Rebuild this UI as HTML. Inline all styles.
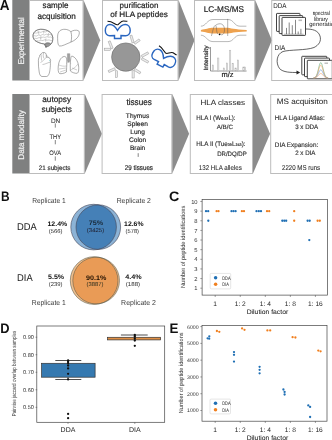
<!DOCTYPE html><html><head><meta charset="utf-8"><style>html,body{margin:0;padding:0;background:#fff;width:332px;height:440px;overflow:hidden}svg{display:block;font-family:"Liberation Sans",sans-serif;text-rendering:geometricPrecision;will-change:transform}</style></head><body>
<svg width="332" height="440" viewBox="0 0 332 440">
<text x="-0.30" y="9.70" font-size="14.6" font-weight="bold" fill="#111" textLength="9.80" lengthAdjust="spacingAndGlyphs" >A</text>
<rect x="12.3" y="0" width="16.7" height="80.5" fill="#7f8080"/>
<text transform="translate(23.80,64.50) rotate(-90)" x="0" y="0" font-size="8.4" font-weight="normal" fill="#f2f2f2" stroke="#f2f2f2" stroke-width="0.2" textLength="47.20" lengthAdjust="spacingAndGlyphs">Experimental</text>
<rect x="29.5" y="0.5" width="53.5" height="80" fill="none" stroke="#bcbcbc" stroke-width="1"/>
<polygon points="83.5,0 100.2,40.25 83.5,80.5" fill="#8c8c8c"/>
<rect x="102.5" y="0.5" width="75.5" height="80" fill="none" stroke="#bcbcbc" stroke-width="1"/>
<polygon points="178.5,0 194.5,40.25 178.5,80.5" fill="#8c8c8c"/>
<rect x="194.5" y="0.5" width="60.19999999999999" height="80" fill="none" stroke="#bcbcbc" stroke-width="1"/>
<polygon points="255.2,0 271.9,40.25 255.2,80.5" fill="#8c8c8c"/>
<rect x="271.7" y="0.5" width="67.80000000000001" height="80" fill="none" stroke="#bcbcbc" stroke-width="1"/>
<rect x="12.3" y="94" width="16.7" height="79.5" fill="#7f8080"/>
<text transform="translate(23.80,159.70) rotate(-90)" x="0" y="0" font-size="8.4" font-weight="normal" fill="#f2f2f2" stroke="#f2f2f2" stroke-width="0.2" textLength="49.60" lengthAdjust="spacingAndGlyphs">Data modality</text>
<rect x="29.5" y="94.5" width="54.8" height="79" fill="none" stroke="#bcbcbc" stroke-width="1"/>
<polygon points="84.8,94 101.9,133.75 84.8,173.5" fill="#8c8c8c"/>
<rect x="102.1" y="94.5" width="69.70000000000002" height="79" fill="none" stroke="#bcbcbc" stroke-width="1"/>
<polygon points="172.3,94 189.1,133.75 172.3,173.5" fill="#8c8c8c"/>
<rect x="190.3" y="94.5" width="62.19999999999999" height="79" fill="none" stroke="#bcbcbc" stroke-width="1"/>
<polygon points="253,94 270.1,133.75 253,173.5" fill="#8c8c8c"/>
<rect x="270.7" y="94.5" width="68.80000000000001" height="79" fill="none" stroke="#bcbcbc" stroke-width="1"/>
<text x="42.60" y="8.40" font-size="8.3" font-weight="normal" fill="#222" stroke="#222" stroke-width="0.2" textLength="26.00" lengthAdjust="spacingAndGlyphs" >sample</text>
<text x="37.40" y="19.00" font-size="8.3" font-weight="normal" fill="#222" stroke="#222" stroke-width="0.2" textLength="38.50" lengthAdjust="spacingAndGlyphs" >acquisition</text>
<g fill="none" stroke="#4a4a4a" stroke-width="0.45">
<defs><clipPath id="brainclip"><path d="M33,36 C33,31 38,29 42,29.3 C47,29.5 52,32 52.8,37.5 C53,41 52,43.5 50.5,44.5 L47,44.5 L46,47.5 L44.5,44 C40,43.5 37,42 35,40.5 C33.5,39 33,37.5 33,36 Z"/></clipPath></defs>
<path d="M33,36 C33,31 38,29 42,29.3 C47,29.5 52,32 52.8,37.5 C53,41 52,43.5 50.5,44.5 L47,44.5 L46,47.5 L44.5,44 C40,43.5 37,42 35,40.5 C33.5,39 33,37.5 33,36 Z" fill="#fff"/>
<g clip-path="url(#brainclip)" stroke="#8c8c8c" stroke-width="0.4">
<path d="M34,33.5 C35.5,32 36.5,34 38,32.5 C39.5,31 40.5,33.5 42,31.8 C43.5,30.5 45,33 46.5,31.5 C48,30.5 49,32.5 50.5,32"/>
<path d="M33.5,36 C35,35 36,37 37.5,35.5 C39,34 40,36.5 41.5,35 C43,33.5 44,36 45.5,34.5 C47,33.5 48,35.5 49.5,34.5 C50.5,34 51.5,35.5 52.5,35.5"/>
<path d="M34,38.5 C35.5,37.5 36.5,39.5 38,38 C39.5,36.5 40.5,39 42,37.5 C43.5,36 44.5,38.5 46,37 C47.5,36 48.5,38 50,37 C51,36.5 52,38 53,38"/>
<path d="M36,41 C37.5,40 38.5,42 40,40.5 C41.5,39.5 42.5,41.5 44,40 C45.5,39 46.5,41 48,40 C49.5,39.5 50.5,41 52,40.5"/>
<path d="M38,31 L39,34.5 M44,30.5 L43.5,33.5 M48.5,33 L48,36.5 M41,36 L40.5,39.5 M46,38.5 L45.5,41.5"/>
</g>
<path d="M33,36 C33,31 38,29 42,29.3 C47,29.5 52,32 52.8,37.5 C53,41 52,43.5 50.5,44.5 L47,44.5 L46,47.5 L44.5,44 C40,43.5 37,42 35,40.5 C33.5,39 33,37.5 33,36 Z"/>
<path d="M44.8,43.8 C46,42.4 49,42.2 50.7,43.5 C50.5,45.5 48.5,46.8 46.5,46.7 C45.5,46 45,45 44.8,43.8 Z" fill="#8a8a8a" stroke="#555"/>
<path d="M45.5,44 L50,44.5 M45.8,45.2 L49.5,45.6" stroke="#bbb" stroke-width="0.3"/>
<path d="M57.6,37 C57.5,31 61,29.2 65,29.3 C67.5,29.4 69.5,30.5 70.9,31.7 C73,30.2 76,29.8 78.2,30.6 C80,31.5 79.5,35 77.5,37.5 C75.5,40 72.5,41.5 70,42.5 C66,44 62,46.5 59.5,46 C57.8,45.5 57.6,41 57.6,37 Z"/>
<path d="M70.9,31.7 C71.8,35 71.8,38.5 71,42" stroke-width="0.45"/>
<path d="M39.6,56.5 C39.6,55 40,54.5 41,54.3 C41.5,53 42.5,52.4 43.8,52.5 C45.3,52.6 46.3,53.5 46.3,55 L46.3,57.2 C47.8,57.2 49.2,57.6 50,58.6 C50.8,59.6 50.8,61 50.3,62 C50.5,64 50.4,66.5 50,69.5 C49.6,73 48.6,76.3 46.5,76.5 L42,76.5 C40.3,76.3 39.6,74.5 39.2,72 C38.6,68.5 38.2,64 38.4,60.5 C38.5,58.5 39,57.3 39.6,56.5 Z" fill="#fff"/>
<path d="M41,54.3 C41.3,56 41.5,58 41.5,60.5 M43.8,52.5 C43,54.5 43,56.5 44,58.5 M40.5,62.5 C42.5,61.5 44.5,59.5 46.3,57.2 M42.5,64.5 C44.5,64.5 47,63 50.3,62 M46.3,55 C47,56 47.5,56.5 48.5,57" stroke="#777" stroke-width="0.4"/>
<circle cx="49.6" cy="60.3" r="0.45" fill="#5bb" stroke="none"/>
<path d="M64,56.5 C66,56 66.8,58 66.8,62 C66.8,66 66.5,70 66.4,72 C64,73.5 61,74 59.5,73.5 C58,72.5 58,69 58.3,66 C58.8,61 61,57 64,56.5 Z"/>
<path d="M71.7,56.1 C75,56.5 78,61 78.6,66 C79,70 78.5,73 77,73.3 C75,73.5 72,72.5 70.4,71 C70.2,67 70.2,63 70.6,60 C70.8,58 71,56.5 71.7,56.1 Z"/>
<path d="M67.4,53.7 L69.8,53.7 L69.8,61 L68.6,62.5 L67.4,61 Z" fill="#a0a0a0" stroke="#888"/>
<path d="M68,61.5 L66.5,63.5 M69.2,61.5 L70.7,63.5 M59,65 C61,66 64,66.5 66.5,66 M59,69 L66,68 M60,72 L66,70 M71,70 C74,68 76,67 78,64 M72,68 L77,70" stroke="#888" stroke-width="0.4"/>
</g>
<text x="119.60" y="7.50" font-size="8" font-weight="normal" fill="#222" stroke="#222" stroke-width="0.2" textLength="38.80" lengthAdjust="spacingAndGlyphs" >purification</text>
<text x="110.30" y="16.90" font-size="8" font-weight="normal" fill="#222" stroke="#222" stroke-width="0.2" textLength="57.50" lengthAdjust="spacingAndGlyphs" >of HLA peptides</text>
<g stroke="#8f8f8f" stroke-width="0.45" fill="#ececec">
<rect x="0" y="-1.05" width="7.85" height="2.1" transform="translate(112.1,48.5) rotate(-111.7)"/>
<rect x="0" y="-1.05" width="6.50" height="2.1" transform="translate(110.7,49.2) rotate(180.0)"/>
<rect x="0" y="-1.05" width="7.62" height="2.1" transform="translate(133.1,42.7) rotate(-106.8)"/>
<rect x="0" y="-1.05" width="6.24" height="2.1" transform="translate(134.5,43.4) rotate(-35.2)"/>
<rect x="0" y="-1.05" width="7.43" height="2.1" transform="translate(141.7,56.4) rotate(-29.0)"/>
<rect x="0" y="-1.05" width="7.43" height="2.1" transform="translate(141.7,58.6) rotate(29.0)"/>
<rect x="0" y="-1.05" width="7.12" height="2.1" transform="translate(115,68.7) rotate(156.0)"/>
<rect x="0" y="-1.05" width="6.60" height="2.1" transform="translate(116.5,70.8) rotate(90.0)"/>
<rect x="0" y="-1.05" width="7.20" height="2.1" transform="translate(133.1,70.8) rotate(90.0)"/>
<rect x="0" y="-1.05" width="6.83" height="2.1" transform="translate(134.5,69.4) rotate(31.8)"/>
</g>
<circle cx="125.8" cy="57.1" r="14.2" fill="#979797" stroke="#6a6a6a" stroke-width="0.6"/>
<g transform="translate(117.7,31.5) rotate(0)">
<path d="M-0.2,-1.2 C-2.5,-5 -5,-7 -7.7,-7 C-10.5,-7 -12.4,-4.5 -12.4,-1 C-12.4,2 -10.5,4.2 -8,4.2 L-3.2,4.0 L-3.2,6.9 L3.3,6.9 L3.3,4.0 L8,4.2 C10.5,4.2 12.5,2 12.5,-1 C12.5,-4.5 10.5,-7 7.5,-7 C4.8,-7 2.2,-5 -0.2,-1.2 Z" fill="none" stroke="#2a66c0" stroke-width="1.45"/>
<path d="M-10.2,-10.2 C-7,-10.2 -5,-9 -3,-7.8 C-1.5,-6.8 -0.5,-6.4 0.5,-7 C2,-8 3.5,-10.5 5.6,-10.5 C7,-10.5 8.5,-10.3 9.7,-10.2" fill="none" stroke="#111" stroke-width="1.1"/>
</g>
<g transform="translate(163.2,59.5) rotate(28)">
<path d="M-0.2,-1.2 C-2.5,-5 -5,-7 -7.7,-7 C-10.5,-7 -12.4,-4.5 -12.4,-1 C-12.4,2 -10.5,4.2 -8,4.2 L-3.2,4.0 L-3.2,6.9 L3.3,6.9 L3.3,4.0 L8,4.2 C10.5,4.2 12.5,2 12.5,-1 C12.5,-4.5 10.5,-7 7.5,-7 C4.8,-7 2.2,-5 -0.2,-1.2 Z" fill="none" stroke="#2a66c0" stroke-width="1.45"/>
<path d="M-10.2,-10.2 C-7,-10.2 -5,-9 -3,-7.8 C-1.5,-6.8 -0.5,-6.4 0.5,-7 C2,-8 3.5,-10.5 5.6,-10.5 C7,-10.5 8.5,-10.3 9.7,-10.2" fill="none" stroke="#111" stroke-width="1.1"/>
</g>
<text x="203.80" y="11.60" font-size="8.4" font-weight="normal" fill="#1e1e1e" stroke="#1e1e1e" stroke-width="0.2" textLength="40.20" lengthAdjust="spacingAndGlyphs" >LC-MS/MS</text>
<path d="M200.9,26.2 C206,26.2 207,19.5 213,19.5 L228,19.5 C234,19.5 234,26.2 240,26.2 L246.4,26.2 M200.9,35.2 C206,35.2 207,41.6 213,41.6 L228,41.6 C234,41.6 234,35.2 240,35.2 L246.4,35.2" fill="none" stroke="#8a8a8a" stroke-width="0.6"/>
<path d="M200.9,29.9 C206,29.4 208,27.9 214,27.8 L226,27.8 C231,27.9 234,29.6 246.7,29.9 L246.7,31.6 C234,31.9 231,33.5 226,33.6 L214,33.6 C208,33.5 206,32 200.9,31.5 Z" fill="#eea24f"/>
<path d="M211.4,36 C213,30 214,25 215.5,25.4 C217,26 216,33 218,34 M216,25 C220,22.5 224.5,23.5 224.5,30 C224.5,34 222,36 220.5,34 M227.7,18.9 L227.7,36" fill="none" stroke="#555" stroke-width="0.45"/>
<circle cx="219.6" cy="34.3" r="0.9" fill="#111"/>
<path d="M210.5,47 L210.5,71 L246.6,71" fill="none" stroke="#555" stroke-width="0.6"/>
<rect x="212.20" y="65" width="1.4" height="6.00" fill="#e8e8e8" stroke="#b0b0b0" stroke-width="0.45"/>
<rect x="217.50" y="58" width="1.4" height="13.00" fill="#e8e8e8" stroke="#b0b0b0" stroke-width="0.45"/>
<rect x="223.20" y="68" width="1.4" height="3.00" fill="#e8e8e8" stroke="#b0b0b0" stroke-width="0.45"/>
<rect x="226.30" y="63" width="1.4" height="8.00" fill="#e8e8e8" stroke="#b0b0b0" stroke-width="0.45"/>
<rect x="229.40" y="50.2" width="1.4" height="20.80" fill="#e8e8e8" stroke="#b0b0b0" stroke-width="0.45"/>
<rect x="232.10" y="63.2" width="1.4" height="7.80" fill="#e8e8e8" stroke="#b0b0b0" stroke-width="0.45"/>
<rect x="234.90" y="68" width="1.4" height="3.00" fill="#e8e8e8" stroke="#b0b0b0" stroke-width="0.45"/>
<rect x="237.30" y="60" width="1.4" height="11.00" fill="#e8e8e8" stroke="#b0b0b0" stroke-width="0.45"/>
<rect x="242.80" y="67" width="1.4" height="4.00" fill="#e8e8e8" stroke="#b0b0b0" stroke-width="0.45"/>
<rect x="244.30" y="67" width="1.4" height="4.00" fill="#e8e8e8" stroke="#b0b0b0" stroke-width="0.45"/>
<text transform="translate(207.50,70.60) rotate(-90)" x="0" y="0" font-size="6.2" font-weight="normal" fill="#222" stroke="#222" stroke-width="0.2" textLength="25.10" lengthAdjust="spacingAndGlyphs">Intensity</text>
<text x="221.50" y="77.00" font-size="7.6" font-weight="normal" fill="#222" stroke="#222" stroke-width="0.2" textLength="12.00" lengthAdjust="spacingAndGlyphs" >m/z</text>
<text x="273.20" y="8.10" font-size="6.8" font-weight="normal" fill="#2a2a2a" stroke="#2a2a2a" stroke-width="0.03" textLength="13.30" lengthAdjust="spacingAndGlyphs" >DDA</text>
<text x="274.50" y="50.00" font-size="6.8" font-weight="normal" fill="#2a2a2a" stroke="#2a2a2a" stroke-width="0.03" textLength="10.70" lengthAdjust="spacingAndGlyphs" >DIA</text>
<rect x="276.5" y="13.4" width="23.5" height="18" rx="0.6" fill="#fff" stroke="#222" stroke-width="0.85"/>
<rect x="279.2" y="15.6" width="23.5" height="18" rx="0.6" fill="#fff" stroke="#222" stroke-width="0.85"/>
<rect x="282" y="17.4" width="23.5" height="18" rx="0.6" fill="#fff" stroke="#222" stroke-width="0.85"/>
<line x1="284" y1="34.2" x2="303.5" y2="34.2" stroke="#555" stroke-width="0.4"/>
<line x1="286.5" y1="34.2" x2="286.5" y2="27.9" stroke="#222" stroke-width="0.55"/>
<line x1="289.2" y1="34.2" x2="289.2" y2="22.5" stroke="#222" stroke-width="0.55"/>
<line x1="292.3" y1="34.2" x2="292.3" y2="25.2" stroke="#222" stroke-width="0.55"/>
<line x1="295.5" y1="34.2" x2="295.5" y2="19.8" stroke="#222" stroke-width="0.55"/>
<line x1="298.2" y1="34.2" x2="298.2" y2="31.5" stroke="#222" stroke-width="0.55"/>
<line x1="300.9" y1="34.2" x2="300.9" y2="28.8" stroke="#222" stroke-width="0.55"/>
<rect x="298.5" y="19.5" width="3.5" height="1.6" fill="#bbb"/>
<text x="312.70" y="14.80" font-size="5.8" font-weight="normal" fill="#2a2a2a" stroke="#2a2a2a" stroke-width="0.04" textLength="17.20" lengthAdjust="spacingAndGlyphs" >spectral</text>
<text x="314.00" y="20.50" font-size="5.8" font-weight="normal" fill="#2a2a2a" stroke="#2a2a2a" stroke-width="0.04" textLength="13.90" lengthAdjust="spacingAndGlyphs" >library</text>
<text x="309.30" y="26.40" font-size="5.8" font-weight="normal" fill="#2a2a2a" stroke="#2a2a2a" stroke-width="0.04" textLength="28.20" lengthAdjust="spacingAndGlyphs" >generation</text>
<path d="M305.5,29 C312,29 318,30 320,36 C321.5,41 319,45 314,47.5 C306,50.5 290,49.5 283,51.5 C276.5,54 275.5,63 279.5,68.5 C283,72.5 291,72.5 297.5,72.5" fill="none" stroke="#222" stroke-width="0.7"/>
<polygon points="300.2,72.5 296.5,70.6 296.5,74.4" fill="#222"/>
<rect x="301.8" y="56.3" width="25" height="18.5" rx="0.6" fill="#fff" stroke="#222" stroke-width="0.85"/>
<rect x="304.5" y="58.1" width="25" height="18.5" rx="0.6" fill="#fff" stroke="#222" stroke-width="0.85"/>
<rect x="307.3" y="60.3" width="25" height="18.5" rx="0.6" fill="#fff" stroke="#222" stroke-width="0.85"/>
<polyline points="313.50,77.91 313.87,77.85 314.23,77.77 314.60,77.63 314.96,77.44 315.32,77.16 315.69,76.77 316.06,76.26 316.42,75.60 316.79,74.77 317.15,73.77 317.51,72.59 317.88,71.26 318.25,69.82 318.61,68.33 318.98,66.85 319.34,65.47 319.70,64.29 320.07,63.38 320.44,62.80 320.80,62.60 321.17,62.80 321.53,63.38 321.89,64.29 322.26,65.47 322.62,66.85 322.99,68.33 323.36,69.82 323.72,71.26 324.08,72.59 324.45,73.77 324.81,74.77 325.18,75.60 325.55,76.26 325.91,76.77 326.27,77.16 326.64,77.44 327.00,77.63 327.37,77.77 327.74,77.85 328.10,77.91" fill="none" stroke="#5aa36a" stroke-width="0.6"/>
<polyline points="313.50,77.93 313.87,77.88 314.23,77.81 314.60,77.70 314.96,77.53 315.32,77.31 315.69,76.99 316.06,76.57 316.42,76.02 316.79,75.34 317.15,74.51 317.51,73.54 317.88,72.44 318.25,71.25 318.61,70.02 318.98,68.80 319.34,67.67 319.70,66.69 320.07,65.94 320.44,65.46 320.80,65.30 321.17,65.46 321.53,65.94 321.89,66.69 322.26,67.67 322.62,68.80 322.99,70.02 323.36,71.25 323.72,72.44 324.08,73.54 324.45,74.51 324.81,75.34 325.18,76.02 325.55,76.57 325.91,76.99 326.27,77.31 326.64,77.53 327.00,77.70 327.37,77.81 327.74,77.88 328.10,77.93" fill="none" stroke="#f0a060" stroke-width="0.6"/>
<polyline points="313.50,77.95 313.87,77.92 314.23,77.88 314.60,77.80 314.96,77.70 315.32,77.55 315.69,77.35 316.06,77.08 316.42,76.72 316.79,76.28 317.15,75.75 317.51,75.12 317.88,74.41 318.25,73.64 318.61,72.85 318.98,72.06 319.34,71.33 319.70,70.70 320.07,70.21 320.44,69.91 320.80,69.80 321.17,69.91 321.53,70.21 321.89,70.70 322.26,71.33 322.62,72.06 322.99,72.85 323.36,73.64 323.72,74.41 324.08,75.12 324.45,75.75 324.81,76.28 325.18,76.72 325.55,77.08 325.91,77.35 326.27,77.55 326.64,77.70 327.00,77.80 327.37,77.88 327.74,77.92 328.10,77.95" fill="none" stroke="#5b8fd0" stroke-width="0.6"/>
<polyline points="313.50,77.97 313.87,77.96 314.23,77.93 314.60,77.89 314.96,77.83 315.32,77.75 315.69,77.64 316.06,77.49 316.42,77.30 316.79,77.06 317.15,76.76 317.51,76.42 317.88,76.03 318.25,75.61 318.61,75.17 318.98,74.74 319.34,74.34 319.70,73.99 320.07,73.73 320.44,73.56 320.80,73.50 321.17,73.56 321.53,73.73 321.89,73.99 322.26,74.34 322.62,74.74 322.99,75.17 323.36,75.61 323.72,76.03 324.08,76.42 324.45,76.76 324.81,77.06 325.18,77.30 325.55,77.49 325.91,77.64 326.27,77.75 326.64,77.83 327.00,77.89 327.37,77.93 327.74,77.96 328.10,77.97" fill="none" stroke="#f0a060" stroke-width="0.6"/>
<rect x="324.5" y="62.5" width="3.5" height="1.4" fill="#bbb"/>
<text x="42.30" y="102.40" font-size="8.2" font-weight="normal" fill="#222" stroke="#222" stroke-width="0.2" textLength="28.80" lengthAdjust="spacingAndGlyphs" >autopsy</text>
<text x="41.60" y="111.60" font-size="8.2" font-weight="normal" fill="#222" stroke="#222" stroke-width="0.2" textLength="30.20" lengthAdjust="spacingAndGlyphs" >subjects</text>
<text x="50.90" y="122.50" font-size="6.6" font-weight="normal" fill="#2a2a2a" stroke="#2a2a2a" stroke-width="0.05" textLength="9.30" lengthAdjust="spacingAndGlyphs" >DN</text>
<text x="49.50" y="138.80" font-size="6.6" font-weight="normal" fill="#2a2a2a" stroke="#2a2a2a" stroke-width="0.05" textLength="11.60" lengthAdjust="spacingAndGlyphs" >THY</text>
<text x="49.30" y="155.20" font-size="6.6" font-weight="normal" fill="#2a2a2a" stroke="#2a2a2a" stroke-width="0.05" textLength="11.80" lengthAdjust="spacingAndGlyphs" >OVA</text>
<line x1="55.3" y1="123.4" x2="55.3" y2="127.6" stroke="#333" stroke-width="0.6"/>
<line x1="55.3" y1="140.0" x2="55.3" y2="144.3" stroke="#333" stroke-width="0.6"/>
<line x1="55.3" y1="156.4" x2="55.3" y2="160.7" stroke="#333" stroke-width="0.6"/>
<text x="38.80" y="169.90" font-size="6.6" font-weight="normal" fill="#2a2a2a" stroke="#2a2a2a" stroke-width="0.15" textLength="31.70" lengthAdjust="spacingAndGlyphs" >21 subjects</text>
<text x="126.40" y="104.90" font-size="8.7" font-weight="normal" fill="#222" stroke="#222" stroke-width="0.2" textLength="25.40" lengthAdjust="spacingAndGlyphs" >tissues</text>
<text x="137.6" y="117.70" font-size="6.6" fill="#222" stroke="#222" stroke-width="0.15" text-anchor="middle">Thymus</text>
<text x="137.6" y="125.80" font-size="6.6" fill="#222" stroke="#222" stroke-width="0.15" text-anchor="middle">Spleen</text>
<text x="137.6" y="133.90" font-size="6.6" fill="#222" stroke="#222" stroke-width="0.15" text-anchor="middle">Lung</text>
<text x="137.6" y="142.00" font-size="6.6" fill="#222" stroke="#222" stroke-width="0.15" text-anchor="middle">Colon</text>
<text x="137.6" y="150.10" font-size="6.6" fill="#222" stroke="#222" stroke-width="0.15" text-anchor="middle">Brain</text>
<line x1="138.2" y1="153.2" x2="138.2" y2="156.9" stroke="#333" stroke-width="0.6"/>
<text x="124.80" y="169.80" font-size="6.8" font-weight="normal" fill="#222" stroke="#222" stroke-width="0.15" textLength="28.20" lengthAdjust="spacingAndGlyphs" >29 tissues</text>
<text x="200.50" y="104.80" font-size="7.6" font-weight="normal" fill="#262626" stroke="#262626" stroke-width="0.04" textLength="44.50" lengthAdjust="spacingAndGlyphs" >HLA classes</text>
<text x="196.30" y="119.60" font-size="6.4" font-weight="normal" fill="#333" stroke="#333" stroke-width="0.15" textLength="39.30" lengthAdjust="spacingAndGlyphs" >HLA I (W<tspan font-size="3.8">6-32</tspan>L):</text>
<text x="216.70" y="128.90" font-size="6.2" font-weight="normal" fill="#333" stroke="#333" stroke-width="0.15" textLength="16.30" lengthAdjust="spacingAndGlyphs" >A/B/C</text>
<text x="196.30" y="145.70" font-size="6.4" font-weight="normal" fill="#333" stroke="#333" stroke-width="0.15" textLength="49.20" lengthAdjust="spacingAndGlyphs" >HLA II (Tue<tspan font-size="3.8">39</tspan>L<tspan font-size="3.8">243</tspan>):</text>
<text x="217.20" y="155.60" font-size="6.4" font-weight="normal" fill="#333" stroke="#333" stroke-width="0.15" textLength="29.60" lengthAdjust="spacingAndGlyphs" >DR/DQ/DP</text>
<text x="198.80" y="170.30" font-size="7.0" font-weight="normal" fill="#2a2a2a" stroke="#2a2a2a" stroke-width="0.08" textLength="43.00" lengthAdjust="spacingAndGlyphs" >132 HLA alleles</text>
<text x="276.70" y="104.00" font-size="7.8" font-weight="normal" fill="#262626" stroke="#262626" stroke-width="0.04" textLength="51.10" lengthAdjust="spacingAndGlyphs" >MS acquisiton</text>
<text x="274.80" y="119.80" font-size="6.5" font-weight="normal" fill="#333" stroke="#333" stroke-width="0.15" textLength="50.00" lengthAdjust="spacingAndGlyphs" >HLA Ligand Atlas:</text>
<text x="295.20" y="129.40" font-size="6.5" font-weight="normal" fill="#333" stroke="#333" stroke-width="0.15" textLength="23.00" lengthAdjust="spacingAndGlyphs" >3 x DDA</text>
<text x="274.80" y="146.90" font-size="6.5" font-weight="normal" fill="#333" stroke="#333" stroke-width="0.15" textLength="43.40" lengthAdjust="spacingAndGlyphs" >DIA Expansion:</text>
<text x="295.20" y="155.20" font-size="6.5" font-weight="normal" fill="#333" stroke="#333" stroke-width="0.15" textLength="20.30" lengthAdjust="spacingAndGlyphs" >2 x DIA</text>
<text x="282.00" y="170.10" font-size="7.1" font-weight="normal" fill="#2a2a2a" stroke="#2a2a2a" stroke-width="0.08" textLength="38.20" lengthAdjust="spacingAndGlyphs" >2220 MS runs</text>
<text x="1.00" y="200.70" font-size="13.7" font-weight="bold" fill="#111" textLength="8.60" lengthAdjust="spacingAndGlyphs" >B</text>
<text x="32.30" y="202.70" font-size="7.2" font-weight="normal" fill="#3a3a3a" textLength="33.40" lengthAdjust="spacingAndGlyphs" >Replicate 1</text>
<text x="116.70" y="202.70" font-size="7.2" font-weight="normal" fill="#3a3a3a" textLength="34.20" lengthAdjust="spacingAndGlyphs" >Replicate 2</text>
<text x="17.10" y="230.10" font-size="9.9" font-weight="normal" fill="#222" stroke="#222" stroke-width="0.02" textLength="19.70" lengthAdjust="spacingAndGlyphs" >DDA</text>
<text x="17.10" y="280.70" font-size="9.9" font-weight="normal" fill="#222" stroke="#222" stroke-width="0.02" textLength="15.60" lengthAdjust="spacingAndGlyphs" >DIA</text>
<text x="31.80" y="305.10" font-size="7.2" font-weight="normal" fill="#3a3a3a" textLength="33.90" lengthAdjust="spacingAndGlyphs" >Replicate 1</text>
<text x="121.10" y="305.40" font-size="7.2" font-weight="normal" fill="#3a3a3a" textLength="34.90" lengthAdjust="spacingAndGlyphs" >Replicate 2</text>
<defs><clipPath id="c1"><circle cx="93.6" cy="227.1" r="22.8"/></clipPath><clipPath id="c2"><circle cx="94.15" cy="280.55" r="23.85"/></clipPath></defs>
<circle cx="93.6" cy="227.1" r="22.8" fill="#8cb3d6"/>
<circle cx="98.3" cy="227.1" r="22.3" fill="#8cb3d6"/>
<circle cx="98.3" cy="227.1" r="22.3" fill="#4580b7" clip-path="url(#c1)"/>
<circle cx="93.6" cy="227.1" r="22.8" fill="none" stroke="#445" stroke-width="0.6"/>
<circle cx="98.3" cy="227.1" r="22.3" fill="none" stroke="#445" stroke-width="0.6"/>
<text x="88.70" y="225.00" font-size="6.6" font-weight="bold" fill="#1a2a3a" textLength="14.40" lengthAdjust="spacingAndGlyphs" >75%</text>
<text x="86.80" y="232.20" font-size="5.6" font-weight="normal" fill="#223" stroke="#223" stroke-width="0.02" textLength="17.40" lengthAdjust="spacingAndGlyphs" >(3425)</text>
<text x="47.50" y="225.80" font-size="6.6" font-weight="bold" fill="#111" textLength="19.70" lengthAdjust="spacingAndGlyphs" >12.4%</text>
<text x="48.70" y="233.00" font-size="5.6" font-weight="normal" fill="#333" stroke="#333" stroke-width="0.02" textLength="13.70" lengthAdjust="spacingAndGlyphs" >(566)</text>
<text x="124.10" y="225.80" font-size="6.6" font-weight="bold" fill="#111" textLength="19.40" lengthAdjust="spacingAndGlyphs" >12.6%</text>
<text x="125.60" y="233.30" font-size="5.6" font-weight="normal" fill="#333" stroke="#333" stroke-width="0.02" textLength="13.40" lengthAdjust="spacingAndGlyphs" >(578)</text>
<circle cx="94.15" cy="280.55" r="23.85" fill="#f0bf8e"/>
<circle cx="96.15" cy="280.55" r="23.35" fill="#f0bf8e"/>
<circle cx="96.15" cy="280.55" r="23.35" fill="#e99b56" clip-path="url(#c2)"/>
<circle cx="94.15" cy="280.55" r="23.85" fill="none" stroke="#554" stroke-width="0.55"/>
<circle cx="96.15" cy="280.55" r="23.35" fill="none" stroke="#554" stroke-width="0.55"/>
<text x="86.10" y="279.80" font-size="6.6" font-weight="bold" fill="#221100" textLength="20.30" lengthAdjust="spacingAndGlyphs" >90.1%</text>
<text x="86.50" y="286.20" font-size="5.6" font-weight="normal" fill="#332" stroke="#332" stroke-width="0.02" textLength="17.00" lengthAdjust="spacingAndGlyphs" >(3887)</text>
<text x="48.00" y="279.20" font-size="6.6" font-weight="bold" fill="#111" textLength="16.10" lengthAdjust="spacingAndGlyphs" >5.5%</text>
<text x="48.70" y="286.40" font-size="5.6" font-weight="normal" fill="#333" stroke="#333" stroke-width="0.02" textLength="13.70" lengthAdjust="spacingAndGlyphs" >(239)</text>
<text x="125.30" y="279.20" font-size="6.6" font-weight="bold" fill="#111" textLength="16.40" lengthAdjust="spacingAndGlyphs" >4.4%</text>
<text x="125.80" y="286.40" font-size="5.6" font-weight="normal" fill="#333" stroke="#333" stroke-width="0.02" textLength="14.30" lengthAdjust="spacingAndGlyphs" >(188)</text>
<text x="169.00" y="200.80" font-size="13.7" font-weight="bold" fill="#111" textLength="10.30" lengthAdjust="spacingAndGlyphs" >C</text>
<rect x="202.1" y="199.6" width="125.3" height="95.5" fill="none" stroke="#444" stroke-width="0.7"/>
<line x1="200.3" y1="288.20" x2="202.1" y2="288.20" stroke="#444" stroke-width="0.5"/>
<text x="197.6" y="290.30" font-size="5.8" fill="#333" text-anchor="end">1</text>
<line x1="200.3" y1="278.57" x2="202.1" y2="278.57" stroke="#444" stroke-width="0.5"/>
<text x="197.6" y="280.67" font-size="5.8" fill="#333" text-anchor="end">2</text>
<line x1="200.3" y1="268.93" x2="202.1" y2="268.93" stroke="#444" stroke-width="0.5"/>
<text x="197.6" y="271.03" font-size="5.8" fill="#333" text-anchor="end">3</text>
<line x1="200.3" y1="259.30" x2="202.1" y2="259.30" stroke="#444" stroke-width="0.5"/>
<text x="197.6" y="261.40" font-size="5.8" fill="#333" text-anchor="end">4</text>
<line x1="200.3" y1="249.67" x2="202.1" y2="249.67" stroke="#444" stroke-width="0.5"/>
<text x="197.6" y="251.77" font-size="5.8" fill="#333" text-anchor="end">5</text>
<line x1="200.3" y1="240.03" x2="202.1" y2="240.03" stroke="#444" stroke-width="0.5"/>
<text x="197.6" y="242.13" font-size="5.8" fill="#333" text-anchor="end">6</text>
<line x1="200.3" y1="230.40" x2="202.1" y2="230.40" stroke="#444" stroke-width="0.5"/>
<text x="197.6" y="232.50" font-size="5.8" fill="#333" text-anchor="end">7</text>
<line x1="200.3" y1="220.77" x2="202.1" y2="220.77" stroke="#444" stroke-width="0.5"/>
<text x="197.6" y="222.87" font-size="5.8" fill="#333" text-anchor="end">8</text>
<line x1="200.3" y1="211.13" x2="202.1" y2="211.13" stroke="#444" stroke-width="0.5"/>
<text x="197.6" y="213.23" font-size="5.8" fill="#333" text-anchor="end">9</text>
<line x1="200.3" y1="201.50" x2="202.1" y2="201.50" stroke="#444" stroke-width="0.5"/>
<text x="197.6" y="203.60" font-size="5.8" fill="#333" text-anchor="end">10</text>
<line x1="215.20" y1="295.1" x2="215.20" y2="297" stroke="#444" stroke-width="0.5"/>
<text x="215.20" y="305.6" font-size="6.6" fill="#222" text-anchor="middle">1</text>
<line x1="240.25" y1="295.1" x2="240.25" y2="297" stroke="#444" stroke-width="0.5"/>
<text x="240.25" y="305.6" font-size="6.6" fill="#222" text-anchor="middle">1: 2</text>
<line x1="265.30" y1="295.1" x2="265.30" y2="297" stroke="#444" stroke-width="0.5"/>
<text x="265.30" y="305.6" font-size="6.6" fill="#222" text-anchor="middle">1: 4</text>
<line x1="290.35" y1="295.1" x2="290.35" y2="297" stroke="#444" stroke-width="0.5"/>
<text x="290.35" y="305.6" font-size="6.6" fill="#222" text-anchor="middle">1: 8</text>
<line x1="315.40" y1="295.1" x2="315.40" y2="297" stroke="#444" stroke-width="0.5"/>
<text x="315.40" y="305.6" font-size="6.6" fill="#222" text-anchor="middle">1: 16</text>
<text x="246.70" y="313.90" font-size="6.6" font-weight="normal" fill="#222" stroke="#222" stroke-width="0.05" textLength="41.50" lengthAdjust="spacingAndGlyphs" >Dilution factor</text>
<text transform="translate(184.80,288.00) rotate(-90)" x="0" y="0" font-size="6.0" font-weight="normal" fill="#3a3a3a" stroke="#3a3a3a" stroke-width="0.02" textLength="82.30" lengthAdjust="spacingAndGlyphs">Number of peptide identifications</text>
<circle cx="206.00" cy="211.13" r="1.15" fill="#1f6fb4"/>
<circle cx="208.20" cy="211.13" r="1.15" fill="#1f6fb4"/>
<circle cx="208.30" cy="220.77" r="1.15" fill="#1f6fb4"/>
<circle cx="231.50" cy="211.13" r="1.15" fill="#1f6fb4"/>
<circle cx="233.50" cy="211.13" r="1.15" fill="#1f6fb4"/>
<circle cx="235.60" cy="211.13" r="1.15" fill="#1f6fb4"/>
<circle cx="256.50" cy="211.13" r="1.15" fill="#1f6fb4"/>
<circle cx="258.80" cy="211.13" r="1.15" fill="#1f6fb4"/>
<circle cx="261.00" cy="211.13" r="1.15" fill="#1f6fb4"/>
<circle cx="282.30" cy="220.77" r="1.15" fill="#1f6fb4"/>
<circle cx="284.30" cy="220.77" r="1.15" fill="#1f6fb4"/>
<circle cx="286.20" cy="220.77" r="1.15" fill="#1f6fb4"/>
<circle cx="307.60" cy="220.77" r="1.15" fill="#1f6fb4"/>
<circle cx="309.70" cy="220.77" r="1.15" fill="#1f6fb4"/>
<circle cx="309.30" cy="240.03" r="1.15" fill="#1f6fb4"/>
<circle cx="216.60" cy="211.13" r="1.15" fill="#f07f1e"/>
<circle cx="218.50" cy="211.13" r="1.15" fill="#f07f1e"/>
<circle cx="241.90" cy="211.13" r="1.15" fill="#f07f1e"/>
<circle cx="244.00" cy="211.13" r="1.15" fill="#f07f1e"/>
<circle cx="267.00" cy="211.13" r="1.15" fill="#f07f1e"/>
<circle cx="269.20" cy="211.13" r="1.15" fill="#f07f1e"/>
<circle cx="294.20" cy="211.13" r="1.15" fill="#f07f1e"/>
<circle cx="294.20" cy="220.77" r="1.15" fill="#f07f1e"/>
<circle cx="317.60" cy="220.77" r="1.15" fill="#f07f1e"/>
<circle cx="319.80" cy="220.77" r="1.15" fill="#f07f1e"/>
<rect x="210.2" y="273.4" width="20.5" height="15.5" fill="#fff" stroke="#ccc" stroke-width="0.5" rx="1"/>
<circle cx="215.60" cy="277.80" r="1.75" fill="#1f6fb4"/>
<circle cx="215.60" cy="284.20" r="1.75" fill="#f07f1e"/>
<text x="222.20" y="279.70" font-size="5.0" font-weight="normal" fill="#333" stroke="#333" stroke-width="0.03" textLength="8.40" lengthAdjust="spacingAndGlyphs" >DDA</text>
<text x="222.20" y="286.10" font-size="5.0" font-weight="normal" fill="#333" stroke="#333" stroke-width="0.03" textLength="6.60" lengthAdjust="spacingAndGlyphs" >DIA</text>
<text x="0.30" y="333.20" font-size="13.7" font-weight="bold" fill="#111" textLength="9.30" lengthAdjust="spacingAndGlyphs" >D</text>
<rect x="36.8" y="326" width="127.9" height="96.3" fill="none" stroke="#444" stroke-width="0.7"/>
<line x1="35.5" y1="407.30" x2="37.2" y2="407.30" stroke="#444" stroke-width="0.5"/>
<text x="33.9" y="409.30" font-size="5.6" fill="#333" text-anchor="end">0.50</text>
<line x1="35.5" y1="389.77" x2="37.2" y2="389.77" stroke="#444" stroke-width="0.5"/>
<text x="33.9" y="391.77" font-size="5.6" fill="#333" text-anchor="end">0.60</text>
<line x1="35.5" y1="372.25" x2="37.2" y2="372.25" stroke="#444" stroke-width="0.5"/>
<text x="33.9" y="374.25" font-size="5.6" fill="#333" text-anchor="end">0.70</text>
<line x1="35.5" y1="354.72" x2="37.2" y2="354.72" stroke="#444" stroke-width="0.5"/>
<text x="33.9" y="356.72" font-size="5.6" fill="#333" text-anchor="end">0.80</text>
<line x1="35.5" y1="337.20" x2="37.2" y2="337.20" stroke="#444" stroke-width="0.5"/>
<text x="33.9" y="339.20" font-size="5.6" fill="#333" text-anchor="end">0.90</text>
<line x1="68.0" y1="422.3" x2="68.0" y2="424" stroke="#444" stroke-width="0.5"/>
<text x="68.0" y="432" font-size="7" fill="#222" text-anchor="middle">DDA</text>
<line x1="134.8" y1="422.3" x2="134.8" y2="424" stroke="#444" stroke-width="0.5"/>
<text x="134.8" y="432" font-size="7" fill="#222" text-anchor="middle">DIA</text>
<text transform="translate(16.00,416.30) rotate(-90)" x="0" y="0" font-size="5.8" font-weight="normal" fill="#3a3a3a" stroke="#3a3a3a" stroke-width="0.02" textLength="85.50" lengthAdjust="spacingAndGlyphs">Pairwise jaccard overlap between samples</text>
<line x1="68" y1="360.4" x2="68" y2="379.4" stroke="#222" stroke-width="0.7"/>
<rect x="41.6" y="363.3" width="53.5" height="13.9" fill="#3579b0" stroke="#333" stroke-width="0.7"/>
<line x1="55.3" y1="360.5" x2="81.3" y2="360.5" stroke="#222" stroke-width="0.8"/>
<line x1="55.3" y1="379.5" x2="81.3" y2="379.5" stroke="#222" stroke-width="0.8"/>
<circle cx="68.10" cy="360.40" r="1.15" fill="#111"/>
<circle cx="68.10" cy="361.80" r="1.15" fill="#111"/>
<circle cx="68.10" cy="363.20" r="1.15" fill="#111"/>
<circle cx="68.10" cy="365.50" r="1.15" fill="#111"/>
<circle cx="68.10" cy="368.40" r="1.15" fill="#111"/>
<circle cx="68.10" cy="373.80" r="1.15" fill="#111"/>
<circle cx="68.10" cy="379.40" r="1.15" fill="#111"/>
<circle cx="68.10" cy="413.90" r="1.15" fill="#111"/>
<circle cx="68.10" cy="418.20" r="1.15" fill="#111"/>
<line x1="134.8" y1="334.9" x2="134.8" y2="341" stroke="#222" stroke-width="0.7"/>
<rect x="107.6" y="337.3" width="53" height="2.6" fill="#e08f45" stroke="#333" stroke-width="0.7"/>
<line x1="120.9" y1="335" x2="147.7" y2="335" stroke="#222" stroke-width="0.8"/>
<circle cx="134.80" cy="335.00" r="1.15" fill="#111"/>
<circle cx="134.80" cy="336.50" r="1.15" fill="#111"/>
<circle cx="134.80" cy="338.50" r="1.15" fill="#111"/>
<circle cx="134.80" cy="340.50" r="1.15" fill="#111"/>
<circle cx="134.80" cy="345.80" r="1.15" fill="#111"/>
<text x="169.60" y="333.00" font-size="13.7" font-weight="bold" fill="#111" textLength="8.90" lengthAdjust="spacingAndGlyphs" >E</text>
<rect x="202.0" y="325.4" width="125.0" height="95.8" fill="none" stroke="#444" stroke-width="0.7"/>
<line x1="200.3" y1="410.50" x2="202.0" y2="410.50" stroke="#444" stroke-width="0.5"/>
<text x="198.6" y="412.40" font-size="5.2" fill="#333" text-anchor="end">1000</text>
<line x1="200.3" y1="393.72" x2="202.0" y2="393.72" stroke="#444" stroke-width="0.5"/>
<text x="198.6" y="395.62" font-size="5.2" fill="#333" text-anchor="end">2000</text>
<line x1="200.3" y1="376.94" x2="202.0" y2="376.94" stroke="#444" stroke-width="0.5"/>
<text x="198.6" y="378.84" font-size="5.2" fill="#333" text-anchor="end">3000</text>
<line x1="200.3" y1="360.16" x2="202.0" y2="360.16" stroke="#444" stroke-width="0.5"/>
<text x="198.6" y="362.06" font-size="5.2" fill="#333" text-anchor="end">4000</text>
<line x1="200.3" y1="343.38" x2="202.0" y2="343.38" stroke="#444" stroke-width="0.5"/>
<text x="198.6" y="345.28" font-size="5.2" fill="#333" text-anchor="end">5000</text>
<line x1="200.3" y1="326.60" x2="202.0" y2="326.60" stroke="#444" stroke-width="0.5"/>
<text x="198.6" y="328.50" font-size="5.2" fill="#333" text-anchor="end">6000</text>
<line x1="215.20" y1="421.2" x2="215.20" y2="423" stroke="#444" stroke-width="0.5"/>
<text x="215.20" y="432.0" font-size="6.6" fill="#222" text-anchor="middle">1</text>
<line x1="240.25" y1="421.2" x2="240.25" y2="423" stroke="#444" stroke-width="0.5"/>
<text x="240.25" y="432.0" font-size="6.6" fill="#222" text-anchor="middle">1: 2</text>
<line x1="265.30" y1="421.2" x2="265.30" y2="423" stroke="#444" stroke-width="0.5"/>
<text x="265.30" y="432.0" font-size="6.6" fill="#222" text-anchor="middle">1: 4</text>
<line x1="290.35" y1="421.2" x2="290.35" y2="423" stroke="#444" stroke-width="0.5"/>
<text x="290.35" y="432.0" font-size="6.6" fill="#222" text-anchor="middle">1: 8</text>
<line x1="315.40" y1="421.2" x2="315.40" y2="423" stroke="#444" stroke-width="0.5"/>
<text x="315.40" y="432.0" font-size="6.6" fill="#222" text-anchor="middle">1: 16</text>
<text x="246.70" y="439.80" font-size="6.6" font-weight="normal" fill="#222" stroke="#222" stroke-width="0.05" textLength="41.50" lengthAdjust="spacingAndGlyphs" >Dilution factor</text>
<text transform="translate(183.40,413.20) rotate(-90)" x="0" y="0" font-size="5.9" font-weight="normal" fill="#3a3a3a" stroke="#3a3a3a" stroke-width="0.02" textLength="80.70" lengthAdjust="spacingAndGlyphs">Number of peptide identifications</text>
<circle cx="207.60" cy="338.30" r="1.15" fill="#1f6fb4"/>
<circle cx="209.20" cy="338.70" r="1.15" fill="#1f6fb4"/>
<circle cx="209.30" cy="336.30" r="1.15" fill="#1f6fb4"/>
<circle cx="234.00" cy="352.10" r="1.15" fill="#1f6fb4"/>
<circle cx="234.00" cy="354.80" r="1.15" fill="#1f6fb4"/>
<circle cx="234.00" cy="361.60" r="1.15" fill="#1f6fb4"/>
<circle cx="259.60" cy="366.80" r="1.15" fill="#1f6fb4"/>
<circle cx="259.60" cy="369.80" r="1.15" fill="#1f6fb4"/>
<circle cx="259.60" cy="373.30" r="1.15" fill="#1f6fb4"/>
<circle cx="283.40" cy="389.50" r="1.15" fill="#1f6fb4"/>
<circle cx="284.60" cy="391.90" r="1.15" fill="#1f6fb4"/>
<circle cx="284.60" cy="394.50" r="1.15" fill="#1f6fb4"/>
<circle cx="308.30" cy="405.40" r="1.15" fill="#1f6fb4"/>
<circle cx="310.10" cy="406.90" r="1.15" fill="#1f6fb4"/>
<circle cx="310.10" cy="417.00" r="1.15" fill="#1f6fb4"/>
<circle cx="216.90" cy="331.00" r="1.15" fill="#f07f1e"/>
<circle cx="219.30" cy="331.80" r="1.15" fill="#f07f1e"/>
<circle cx="242.10" cy="328.40" r="1.15" fill="#f07f1e"/>
<circle cx="244.50" cy="329.80" r="1.15" fill="#f07f1e"/>
<circle cx="267.40" cy="330.40" r="1.15" fill="#f07f1e"/>
<circle cx="270.20" cy="330.40" r="1.15" fill="#f07f1e"/>
<circle cx="292.60" cy="337.20" r="1.15" fill="#f07f1e"/>
<circle cx="295.40" cy="337.50" r="1.15" fill="#f07f1e"/>
<circle cx="318.30" cy="350.60" r="1.15" fill="#f07f1e"/>
<circle cx="320.60" cy="351.30" r="1.15" fill="#f07f1e"/>
<rect x="210.0" y="399.1" width="20.5" height="14.8" fill="#fff" stroke="#ccc" stroke-width="0.5" rx="1"/>
<circle cx="215.50" cy="403.30" r="1.75" fill="#1f6fb4"/>
<circle cx="215.50" cy="409.70" r="1.75" fill="#f07f1e"/>
<text x="222.20" y="405.20" font-size="5.0" font-weight="normal" fill="#333" stroke="#333" stroke-width="0.03" textLength="8.40" lengthAdjust="spacingAndGlyphs" >DDA</text>
<text x="222.20" y="411.60" font-size="5.0" font-weight="normal" fill="#333" stroke="#333" stroke-width="0.03" textLength="6.60" lengthAdjust="spacingAndGlyphs" >DIA</text>
</svg></body></html>
